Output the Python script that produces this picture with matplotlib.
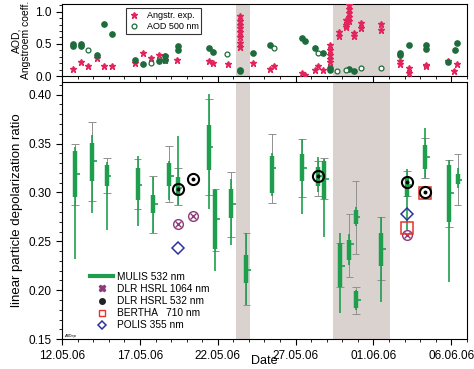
import matplotlib
matplotlib.use('Agg')
import matplotlib.pyplot as plt
import matplotlib.dates as mdates
from matplotlib.lines import Line2D
from matplotlib.ticker import MultipleLocator, FixedLocator
from datetime import datetime

plt.rcParams['font.family'] = ['Liberation Sans', 'DejaVu Sans']

# time axis: days after 12.05.2006 00:00
t0 = mdates.date2num(datetime(2006, 5, 12))

# shaded periods (days after 12.05.06)
shade_start = [11.15, 17.4]
shade_end = [12.1, 21.03]

# ---- upper panel: AOD and Angstroem exponent
aod_day = [0.68, 0.68, 1.22, 1.22, 2.22, 2.69, 3.23, 4.68, 5.21, 6.24, 6.6, 6.6, 7.46, 7.46,
           9.45, 9.7, 11.41, 11.41, 12.27, 13.38, 15.43, 15.6, 16.22, 16.75, 17.23, 17.23,
           18.46, 18.72, 21.73, 21.73, 22.27, 23.38, 23.38, 24.77, 25.26, 25.37]
aod_val = [0.50, 0.47, 0.50, 0.46, 0.32, 0.81, 0.65, 0.25, 0.18, 0.23, 0.31, 0.25, 0.41, 0.46,
           0.44, 0.37, 0.10, 0.08, 0.36, 0.48, 0.59, 0.54, 0.43, 0.36, 0.12, 0.09,
           0.11, 0.08, 0.32, 0.36, 0.49, 0.42, 0.48, 0.22, 0.41, 0.52]
aod_open_day = [1.69, 5.7, 10.56, 13.6, 16.43, 17.67, 18.25, 19.21, 20.5]
aod_open_val = [0.41, 0.21, 0.35, 0.44, 0.36, 0.08, 0.09, 0.13, 0.12]

ang_day = [0.68, 1.22, 1.69, 2.22, 2.69, 3.23, 4.68, 5.21, 5.74, 6.24, 6.6, 6.6, 7.35,
           9.45, 9.7, 10.67,
           11.41, 11.41, 11.41, 11.41, 11.41, 11.41, 11.41, 11.41,
           12.27, 13.38, 13.6, 15.43, 15.6, 16.22, 16.43, 16.75,
           17.23, 17.23, 17.23, 17.23, 17.23, 17.78, 17.78,
           18.25, 18.25, 18.25, 18.46, 18.46, 18.46, 18.46, 18.46,
           18.72, 18.72, 19.21, 19.21, 20.5, 20.5, 21.73, 21.73, 22.27, 22.27,
           23.38, 23.38, 24.77, 25.2, 25.37]
ang_val = [0.11, 0.22, 0.16, 0.28, 0.15, 0.15, 0.20, 0.36, 0.28, 0.32, 0.31, 0.25, 0.25,
           0.24, 0.21, 0.18,
           0.93, 0.86, 0.80, 0.75, 0.68, 0.60, 0.52, 0.45,
           0.21, 0.11, 0.16, 0.04, 0.02, 0.10, 0.15, 0.10,
           0.48, 0.40, 0.33, 0.27, 0.22, 0.69, 0.63,
           0.87, 0.80, 0.77, 1.10, 1.04, 0.98, 0.92, 0.85,
           0.67, 0.62, 0.82, 0.75, 0.81, 0.72, 0.23, 0.18, 0.12, 0.04,
           0.17, 0.15, 0.23, 0.08, 0.19]

# ---- lower panel: MULIS 532 nm statistics
mulis_day = [0.83, 1.94, 2.86, 4.85, 5.85, 6.88, 7.42, 9.42, 9.85, 10.87, 11.84, 13.46,
             15.43, 16.43, 16.84, 17.86, 18.46, 18.85, 18.87, 20.5, 22.14, 23.33, 24.87, 25.4]
mulis_min = [0.232, 0.279, 0.262, 0.266, 0.259, 0.292, 0.287, 0.283, 0.220, 0.246, 0.185, 0.296,
             0.278, 0.300, 0.254, 0.177, 0.226, 0.266, 0.180, 0.188, 0.262, 0.315, 0.208, 0.305]
mulis_max = [0.346, 0.359, 0.331, 0.337, 0.316, 0.332, 0.358, 0.401, 0.304, 0.314, 0.258, 0.340,
             0.355, 0.336, 0.334, 0.259, 0.257, 0.285, 0.200, 0.275, 0.324, 0.366, 0.333, 0.325]
mulis_q1 = [0.295, 0.312, 0.307, 0.292, 0.279, 0.307, 0.297, 0.323, 0.242, 0.274, 0.207, 0.299,
            0.312, 0.307, 0.293, 0.203, 0.231, 0.268, 0.182, 0.225, 0.295, 0.324, 0.270, 0.309]
mulis_q3 = [0.342, 0.351, 0.328, 0.325, 0.297, 0.330, 0.316, 0.369, 0.302, 0.303, 0.236, 0.337,
            0.339, 0.326, 0.332, 0.248, 0.251, 0.282, 0.199, 0.259, 0.316, 0.348, 0.328, 0.319]
mulis_mean = [0.319, 0.332, 0.317, 0.308, 0.288, 0.317, 0.305, 0.346, 0.273, 0.288, 0.221, 0.325,
              0.325, 0.317, 0.314, 0.225, 0.247, 0.275, 0.190, 0.242, 0.308, 0.336, 0.299, 0.313]
mulis_elo = [0.287, 0.291, 0.299, 0.283, 0.259, 0.290, 0.287, 0.297, 0.240, 0.254, 0.185, 0.289,
             0.295, 0.296, 0.293, 0.203, 0.214, 0.237, 0.176, 0.210, 0.296, 0.315, 0.265, 0.287]
mulis_ehi = [0.350, 0.372, 0.335, 0.334, 0.317, 0.347, 0.325, 0.396, 0.304, 0.321, 0.258, 0.360,
             0.355, 0.332, 0.335, 0.248, 0.278, 0.312, 0.203, 0.275, 0.322, 0.356, 0.333, 0.339]

# other lidars
hsrl532_day = [7.42, 8.42, 16.43, 22.14, 23.33]
hsrl532_val = [0.303, 0.314, 0.317, 0.311, 0.300]
hsrl1064_day = [7.42, 8.42, 22.14]
hsrl1064_val = [0.268, 0.276, 0.256]
bertha_day = [22.14, 23.33]
bertha_val = [0.264, 0.299]
polis_day = [7.42, 22.14]
polis_val = [0.243, 0.278]

def tt(days):
    return [t0 + d for d in days]

green = '#1f9e4e'
dkgreen = '#1e6b3c'
red = '#e3245c'
shade = '#d9d2cf'

fig = plt.figure(figsize=(4.74, 3.69), dpi=100)
ax1 = fig.add_axes([0.131, 0.794, 0.854, 0.195])
ax2 = fig.add_axes([0.131, 0.081, 0.854, 0.697])

for ax in (ax1, ax2):
    for s, e in zip(shade_start, shade_end):
        ax.axvspan(t0 + s, t0 + e, color=shade, lw=0, zorder=0)
    ax.set_xlim(t0, t0 + 26)
    ax.xaxis.set_major_locator(FixedLocator(tt([0, 5, 10, 15, 20, 25])))
    ax.xaxis.set_minor_locator(MultipleLocator(1))
    ax.tick_params(which='major', length=4, width=0.8, labelsize=8.5)
    ax.tick_params(which='minor', length=2.5, width=0.6)
    for sp in ax.spines.values():
        sp.set_linewidth(0.8)

# upper panel
ax1.plot(tt(ang_day), ang_val, ls='none', marker='*', ms=4.5, color=red, mec=red, zorder=3)
ax1.plot(tt(aod_day), aod_val, ls='none', marker='o', ms=3.8, color=dkgreen, mec=dkgreen, zorder=3)
ax1.plot(tt(aod_open_day), aod_open_val, ls='none', marker='o', ms=3.5, mfc='white',
         mec=dkgreen, mew=0.9, zorder=3)
ax1.set_ylim(0, 1.12)
ax1.yaxis.set_major_locator(MultipleLocator(0.5))
ax1.yaxis.set_minor_locator(MultipleLocator(0.1))
ax1.yaxis.set_major_formatter(plt.FormatStrFormatter('%.1f'))
ax1.set_xticklabels([])
ax1.set_ylabel('AOD,\nAngstroem coeff.', fontsize=7.5, labelpad=3, linespacing=1.0)
h1 = [Line2D([], [], ls='none', marker='*', ms=5, color=red),
      Line2D([], [], ls='none', marker='o', ms=3.5, mfc='white', mec=dkgreen, mew=0.9)]
leg1 = ax1.legend(h1, ['Angstr. exp.', 'AOD 500 nm'], loc='upper left',
                  bbox_to_anchor=(0.158, 0.94), fontsize=6.5, frameon=True, fancybox=False,
                  handlelength=1.2, handletextpad=0.8, borderpad=0.3, labelspacing=0.2,
                  borderaxespad=0)
leg1.get_frame().set_edgecolor('black')
leg1.get_frame().set_linewidth(0.8)

# lower panel
x = tt(mulis_day)
ax2.vlines(x, mulis_elo, mulis_ehi, color='#909090', lw=0.7, zorder=2)
ax2.hlines(mulis_elo, [v - 0.25 for v in x], [v + 0.25 for v in x], color='#909090', lw=0.7, zorder=2)
ax2.hlines(mulis_ehi, [v - 0.25 for v in x], [v + 0.25 for v in x], color='#909090', lw=0.7, zorder=2)
ax2.vlines(x, mulis_min, mulis_max, color=green, lw=1.2, zorder=3)
ax2.vlines(x, mulis_q1, mulis_q3, color=green, lw=3.2, zorder=3)
ax2.hlines(mulis_mean, x, [v + 0.3 for v in x], color=green, lw=1.2, zorder=3)

ax2.plot(tt(hsrl1064_day), hsrl1064_val, ls='none', marker='o', ms=7, mfc='none',
         mec='#8e3a7a', mew=1.0, zorder=4)
ax2.plot(tt(hsrl1064_day), hsrl1064_val, ls='none', marker='x', ms=5, color='#8e3a7a', mew=1.0, zorder=4)
ax2.plot(tt(bertha_day), bertha_val, ls='none', marker='s', ms=8, mfc='none',
         mec='#e8312a', mew=1.1, zorder=4)
ax2.plot(tt(polis_day), polis_val, ls='none', marker='D', ms=6.5, mfc='none',
         mec='#2b33a0', mew=1.1, zorder=4)
ax2.plot(tt(hsrl532_day), hsrl532_val, ls='none', marker='o', ms=8, mfc='none',
         mec='black', mew=1.5, zorder=5)
ax2.plot(tt(hsrl532_day), hsrl532_val, ls='none', marker='o', ms=1.8, color='black', zorder=5)

ax2.set_ylim(0.15, 0.413)
ax2.yaxis.set_major_locator(MultipleLocator(0.05))
ax2.yaxis.set_minor_locator(MultipleLocator(0.01))
ax2.yaxis.set_major_formatter(plt.FormatStrFormatter('%.2f'))
ax2.xaxis.set_major_formatter(mdates.DateFormatter('%d.%m.%y'))
ax2.set_ylabel('linear particle depolarization ratio', fontsize=9.5, labelpad=4)
ax2.set_xlabel('Date', fontsize=9, labelpad=-4.5)
ax2.text(0.004, 0.008, 'AllDep', transform=ax2.transAxes, fontsize=3, style='italic')

h2 = [Line2D([], [], color=green, lw=3),
      Line2D([], [], ls='none', marker='X', ms=4.5, color='#8e3a7a', mec='#8e3a7a'),
      Line2D([], [], ls='none', marker='o', ms=4, color='#222222'),
      Line2D([], [], ls='none', marker='s', ms=4.5, mfc='none', mec='#e8312a', mew=1.0),
      Line2D([], [], ls='none', marker='D', ms=4.5, mfc='none', mec='#2b33a0', mew=1.1)]
ax2.legend(h2, ['MULIS 532 nm', 'DLR HSRL 1064 nm', 'DLR HSRL 532 nm', 'BERTHA   710 nm',
                'POLIS 355 nm'], loc='lower left', bbox_to_anchor=(0.07, 0.035),
           frameon=False, fontsize=7.3, handlelength=2.2, handletextpad=0.4,
           labelspacing=0.2, borderaxespad=0, borderpad=0)

plt.savefig('out.png', dpi=100)
